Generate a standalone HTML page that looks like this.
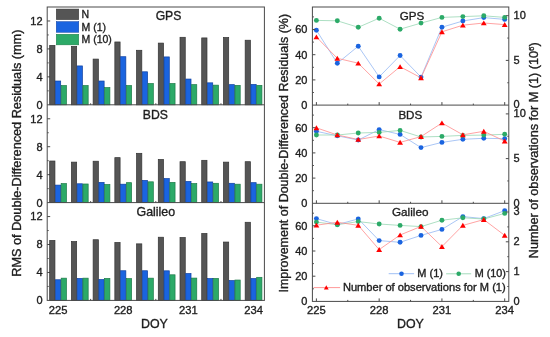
<!DOCTYPE html>
<html><head><meta charset="utf-8"><style>
html,body{margin:0;padding:0;background:#fff;overflow:hidden}
svg{display:block;will-change:transform}
text{font-family:"Liberation Sans", sans-serif;fill:#1e1e1e;stroke:#1e1e1e;stroke-width:0.35px}
</style></head><body>
<svg width="550" height="337" viewBox="0 0 550 337">
<rect width="550" height="337" fill="#fff"/>
<line x1="47.2" y1="90.83" x2="48.7" y2="90.83" stroke="#4a4a4a" stroke-width="1"/>
<line x1="47.2" y1="76.86" x2="50.2" y2="76.86" stroke="#4a4a4a" stroke-width="1"/>
<line x1="47.2" y1="62.89" x2="48.7" y2="62.89" stroke="#4a4a4a" stroke-width="1"/>
<line x1="47.2" y1="48.91" x2="50.2" y2="48.91" stroke="#4a4a4a" stroke-width="1"/>
<line x1="47.2" y1="34.94" x2="48.7" y2="34.94" stroke="#4a4a4a" stroke-width="1"/>
<line x1="47.2" y1="20.97" x2="50.2" y2="20.97" stroke="#4a4a4a" stroke-width="1"/>
<text x="42.6" y="108.70" font-size="11" text-anchor="end">0</text>
<text x="42.6" y="80.76" font-size="11" text-anchor="end">4</text>
<text x="42.6" y="52.81" font-size="11" text-anchor="end">8</text>
<text x="42.6" y="24.87" font-size="11" text-anchor="end">12</text>
<line x1="58.06" y1="104.8" x2="58.06" y2="101.8" stroke="#4a4a4a" stroke-width="1"/>
<line x1="90.64" y1="104.8" x2="90.64" y2="103.3" stroke="#4a4a4a" stroke-width="1"/>
<line x1="123.22" y1="104.8" x2="123.22" y2="101.8" stroke="#4a4a4a" stroke-width="1"/>
<line x1="155.80" y1="104.8" x2="155.80" y2="103.3" stroke="#4a4a4a" stroke-width="1"/>
<line x1="188.38" y1="104.8" x2="188.38" y2="101.8" stroke="#4a4a4a" stroke-width="1"/>
<line x1="220.96" y1="104.8" x2="220.96" y2="103.3" stroke="#4a4a4a" stroke-width="1"/>
<line x1="253.54" y1="104.8" x2="253.54" y2="101.8" stroke="#4a4a4a" stroke-width="1"/>
<line x1="47.2" y1="188.63" x2="48.7" y2="188.63" stroke="#4a4a4a" stroke-width="1"/>
<line x1="47.2" y1="174.66" x2="50.2" y2="174.66" stroke="#4a4a4a" stroke-width="1"/>
<line x1="47.2" y1="160.69" x2="48.7" y2="160.69" stroke="#4a4a4a" stroke-width="1"/>
<line x1="47.2" y1="146.71" x2="50.2" y2="146.71" stroke="#4a4a4a" stroke-width="1"/>
<line x1="47.2" y1="132.74" x2="48.7" y2="132.74" stroke="#4a4a4a" stroke-width="1"/>
<line x1="47.2" y1="118.77" x2="50.2" y2="118.77" stroke="#4a4a4a" stroke-width="1"/>
<text x="42.6" y="206.50" font-size="11" text-anchor="end">0</text>
<text x="42.6" y="178.56" font-size="11" text-anchor="end">4</text>
<text x="42.6" y="150.61" font-size="11" text-anchor="end">8</text>
<text x="42.6" y="122.67" font-size="11" text-anchor="end">12</text>
<line x1="58.06" y1="202.6" x2="58.06" y2="199.6" stroke="#4a4a4a" stroke-width="1"/>
<line x1="90.64" y1="202.6" x2="90.64" y2="201.1" stroke="#4a4a4a" stroke-width="1"/>
<line x1="123.22" y1="202.6" x2="123.22" y2="199.6" stroke="#4a4a4a" stroke-width="1"/>
<line x1="155.80" y1="202.6" x2="155.80" y2="201.1" stroke="#4a4a4a" stroke-width="1"/>
<line x1="188.38" y1="202.6" x2="188.38" y2="199.6" stroke="#4a4a4a" stroke-width="1"/>
<line x1="220.96" y1="202.6" x2="220.96" y2="201.1" stroke="#4a4a4a" stroke-width="1"/>
<line x1="253.54" y1="202.6" x2="253.54" y2="199.6" stroke="#4a4a4a" stroke-width="1"/>
<line x1="47.2" y1="286.43" x2="48.7" y2="286.43" stroke="#4a4a4a" stroke-width="1"/>
<line x1="47.2" y1="272.46" x2="50.2" y2="272.46" stroke="#4a4a4a" stroke-width="1"/>
<line x1="47.2" y1="258.49" x2="48.7" y2="258.49" stroke="#4a4a4a" stroke-width="1"/>
<line x1="47.2" y1="244.51" x2="50.2" y2="244.51" stroke="#4a4a4a" stroke-width="1"/>
<line x1="47.2" y1="230.54" x2="48.7" y2="230.54" stroke="#4a4a4a" stroke-width="1"/>
<line x1="47.2" y1="216.57" x2="50.2" y2="216.57" stroke="#4a4a4a" stroke-width="1"/>
<text x="42.6" y="304.30" font-size="11" text-anchor="end">0</text>
<text x="42.6" y="276.36" font-size="11" text-anchor="end">4</text>
<text x="42.6" y="248.41" font-size="11" text-anchor="end">8</text>
<text x="42.6" y="220.47" font-size="11" text-anchor="end">12</text>
<line x1="58.06" y1="300.4" x2="58.06" y2="297.4" stroke="#4a4a4a" stroke-width="1"/>
<line x1="90.64" y1="300.4" x2="90.64" y2="298.9" stroke="#4a4a4a" stroke-width="1"/>
<line x1="123.22" y1="300.4" x2="123.22" y2="297.4" stroke="#4a4a4a" stroke-width="1"/>
<line x1="155.80" y1="300.4" x2="155.80" y2="298.9" stroke="#4a4a4a" stroke-width="1"/>
<line x1="188.38" y1="300.4" x2="188.38" y2="297.4" stroke="#4a4a4a" stroke-width="1"/>
<line x1="220.96" y1="300.4" x2="220.96" y2="298.9" stroke="#4a4a4a" stroke-width="1"/>
<line x1="253.54" y1="300.4" x2="253.54" y2="297.4" stroke="#4a4a4a" stroke-width="1"/>
<rect x="49.68" y="45.39" width="5.26" height="59.41" fill="#555555" stroke="#333333" stroke-width="0.7"/>
<rect x="55.43" y="81.02" width="5.26" height="23.78" fill="#1a64e0" stroke="#0d3fa0" stroke-width="0.7"/>
<rect x="61.19" y="85.56" width="5.26" height="19.24" fill="#2caa68" stroke="#1d7a48" stroke-width="0.7"/>
<rect x="71.40" y="46.30" width="5.26" height="58.50" fill="#555555" stroke="#333333" stroke-width="0.7"/>
<rect x="77.15" y="65.93" width="5.26" height="38.87" fill="#1a64e0" stroke="#0d3fa0" stroke-width="0.7"/>
<rect x="82.91" y="85.56" width="5.26" height="19.24" fill="#2caa68" stroke="#1d7a48" stroke-width="0.7"/>
<rect x="93.12" y="59.08" width="5.26" height="45.72" fill="#555555" stroke="#333333" stroke-width="0.7"/>
<rect x="98.87" y="81.02" width="5.26" height="23.78" fill="#1a64e0" stroke="#0d3fa0" stroke-width="0.7"/>
<rect x="104.63" y="87.59" width="5.26" height="17.21" fill="#2caa68" stroke="#1d7a48" stroke-width="0.7"/>
<rect x="114.84" y="41.97" width="5.26" height="62.83" fill="#555555" stroke="#333333" stroke-width="0.7"/>
<rect x="120.59" y="56.71" width="5.26" height="48.09" fill="#1a64e0" stroke="#0d3fa0" stroke-width="0.7"/>
<rect x="126.35" y="85.56" width="5.26" height="19.24" fill="#2caa68" stroke="#1d7a48" stroke-width="0.7"/>
<rect x="136.56" y="50.28" width="5.26" height="54.52" fill="#555555" stroke="#333333" stroke-width="0.7"/>
<rect x="142.31" y="71.80" width="5.26" height="33.00" fill="#1a64e0" stroke="#0d3fa0" stroke-width="0.7"/>
<rect x="148.07" y="83.53" width="5.26" height="21.27" fill="#2caa68" stroke="#1d7a48" stroke-width="0.7"/>
<rect x="158.28" y="43.09" width="5.26" height="61.71" fill="#555555" stroke="#333333" stroke-width="0.7"/>
<rect x="164.03" y="56.92" width="5.26" height="47.88" fill="#1a64e0" stroke="#0d3fa0" stroke-width="0.7"/>
<rect x="169.79" y="83.53" width="5.26" height="21.27" fill="#2caa68" stroke="#1d7a48" stroke-width="0.7"/>
<rect x="180.00" y="37.29" width="5.26" height="67.51" fill="#555555" stroke="#333333" stroke-width="0.7"/>
<rect x="185.75" y="79.06" width="5.26" height="25.74" fill="#1a64e0" stroke="#0d3fa0" stroke-width="0.7"/>
<rect x="191.51" y="84.65" width="5.26" height="20.15" fill="#2caa68" stroke="#1d7a48" stroke-width="0.7"/>
<rect x="201.72" y="37.92" width="5.26" height="66.88" fill="#555555" stroke="#333333" stroke-width="0.7"/>
<rect x="207.47" y="82.84" width="5.26" height="21.96" fill="#1a64e0" stroke="#0d3fa0" stroke-width="0.7"/>
<rect x="213.23" y="85.14" width="5.26" height="19.66" fill="#2caa68" stroke="#1d7a48" stroke-width="0.7"/>
<rect x="223.44" y="37.50" width="5.26" height="67.30" fill="#555555" stroke="#333333" stroke-width="0.7"/>
<rect x="229.19" y="84.65" width="5.26" height="20.15" fill="#1a64e0" stroke="#0d3fa0" stroke-width="0.7"/>
<rect x="234.95" y="85.35" width="5.26" height="19.45" fill="#2caa68" stroke="#1d7a48" stroke-width="0.7"/>
<rect x="245.16" y="40.22" width="5.26" height="64.58" fill="#555555" stroke="#333333" stroke-width="0.7"/>
<rect x="250.91" y="84.44" width="5.26" height="20.36" fill="#1a64e0" stroke="#0d3fa0" stroke-width="0.7"/>
<rect x="256.67" y="85.35" width="5.26" height="19.45" fill="#2caa68" stroke="#1d7a48" stroke-width="0.7"/>
<rect x="49.68" y="161.01" width="5.26" height="41.59" fill="#555555" stroke="#333333" stroke-width="0.7"/>
<rect x="55.43" y="185.11" width="5.26" height="17.49" fill="#1a64e0" stroke="#0d3fa0" stroke-width="0.7"/>
<rect x="61.19" y="183.57" width="5.26" height="19.03" fill="#2caa68" stroke="#1d7a48" stroke-width="0.7"/>
<rect x="71.40" y="162.12" width="5.26" height="40.48" fill="#555555" stroke="#333333" stroke-width="0.7"/>
<rect x="77.15" y="183.78" width="5.26" height="18.82" fill="#1a64e0" stroke="#0d3fa0" stroke-width="0.7"/>
<rect x="82.91" y="183.99" width="5.26" height="18.61" fill="#2caa68" stroke="#1d7a48" stroke-width="0.7"/>
<rect x="93.12" y="161.22" width="5.26" height="41.38" fill="#555555" stroke="#333333" stroke-width="0.7"/>
<rect x="98.87" y="182.38" width="5.26" height="20.22" fill="#1a64e0" stroke="#0d3fa0" stroke-width="0.7"/>
<rect x="104.63" y="184.48" width="5.26" height="18.12" fill="#2caa68" stroke="#1d7a48" stroke-width="0.7"/>
<rect x="114.84" y="157.65" width="5.26" height="44.95" fill="#555555" stroke="#333333" stroke-width="0.7"/>
<rect x="120.59" y="184.20" width="5.26" height="18.40" fill="#1a64e0" stroke="#0d3fa0" stroke-width="0.7"/>
<rect x="126.35" y="182.66" width="5.26" height="19.94" fill="#2caa68" stroke="#1d7a48" stroke-width="0.7"/>
<rect x="136.56" y="153.32" width="5.26" height="49.28" fill="#555555" stroke="#333333" stroke-width="0.7"/>
<rect x="142.31" y="180.43" width="5.26" height="22.17" fill="#1a64e0" stroke="#0d3fa0" stroke-width="0.7"/>
<rect x="148.07" y="181.82" width="5.26" height="20.78" fill="#2caa68" stroke="#1d7a48" stroke-width="0.7"/>
<rect x="158.28" y="159.47" width="5.26" height="43.13" fill="#555555" stroke="#333333" stroke-width="0.7"/>
<rect x="164.03" y="178.61" width="5.26" height="23.99" fill="#1a64e0" stroke="#0d3fa0" stroke-width="0.7"/>
<rect x="169.79" y="182.38" width="5.26" height="20.22" fill="#2caa68" stroke="#1d7a48" stroke-width="0.7"/>
<rect x="180.00" y="161.70" width="5.26" height="40.90" fill="#555555" stroke="#333333" stroke-width="0.7"/>
<rect x="185.75" y="181.47" width="5.26" height="21.13" fill="#1a64e0" stroke="#0d3fa0" stroke-width="0.7"/>
<rect x="191.51" y="183.57" width="5.26" height="19.03" fill="#2caa68" stroke="#1d7a48" stroke-width="0.7"/>
<rect x="201.72" y="160.31" width="5.26" height="42.29" fill="#555555" stroke="#333333" stroke-width="0.7"/>
<rect x="207.47" y="181.96" width="5.26" height="20.64" fill="#1a64e0" stroke="#0d3fa0" stroke-width="0.7"/>
<rect x="213.23" y="183.29" width="5.26" height="19.31" fill="#2caa68" stroke="#1d7a48" stroke-width="0.7"/>
<rect x="223.44" y="162.12" width="5.26" height="40.48" fill="#555555" stroke="#333333" stroke-width="0.7"/>
<rect x="229.19" y="183.29" width="5.26" height="19.31" fill="#1a64e0" stroke="#0d3fa0" stroke-width="0.7"/>
<rect x="234.95" y="184.20" width="5.26" height="18.40" fill="#2caa68" stroke="#1d7a48" stroke-width="0.7"/>
<rect x="245.16" y="161.70" width="5.26" height="40.90" fill="#555555" stroke="#333333" stroke-width="0.7"/>
<rect x="250.91" y="182.66" width="5.26" height="19.94" fill="#1a64e0" stroke="#0d3fa0" stroke-width="0.7"/>
<rect x="256.67" y="184.20" width="5.26" height="18.40" fill="#2caa68" stroke="#1d7a48" stroke-width="0.7"/>
<rect x="49.68" y="240.43" width="5.26" height="59.97" fill="#555555" stroke="#333333" stroke-width="0.7"/>
<rect x="55.43" y="279.76" width="5.26" height="20.64" fill="#1a64e0" stroke="#0d3fa0" stroke-width="0.7"/>
<rect x="61.19" y="278.16" width="5.26" height="22.24" fill="#2caa68" stroke="#1d7a48" stroke-width="0.7"/>
<rect x="71.40" y="241.55" width="5.26" height="58.85" fill="#555555" stroke="#333333" stroke-width="0.7"/>
<rect x="77.15" y="278.44" width="5.26" height="21.96" fill="#1a64e0" stroke="#0d3fa0" stroke-width="0.7"/>
<rect x="82.91" y="278.16" width="5.26" height="22.24" fill="#2caa68" stroke="#1d7a48" stroke-width="0.7"/>
<rect x="93.12" y="239.73" width="5.26" height="60.67" fill="#555555" stroke="#333333" stroke-width="0.7"/>
<rect x="98.87" y="279.55" width="5.26" height="20.85" fill="#1a64e0" stroke="#0d3fa0" stroke-width="0.7"/>
<rect x="104.63" y="278.44" width="5.26" height="21.96" fill="#2caa68" stroke="#1d7a48" stroke-width="0.7"/>
<rect x="114.84" y="242.46" width="5.26" height="57.94" fill="#555555" stroke="#333333" stroke-width="0.7"/>
<rect x="120.59" y="270.75" width="5.26" height="29.65" fill="#1a64e0" stroke="#0d3fa0" stroke-width="0.7"/>
<rect x="126.35" y="278.64" width="5.26" height="21.75" fill="#2caa68" stroke="#1d7a48" stroke-width="0.7"/>
<rect x="136.56" y="243.86" width="5.26" height="56.54" fill="#555555" stroke="#333333" stroke-width="0.7"/>
<rect x="142.31" y="270.75" width="5.26" height="29.65" fill="#1a64e0" stroke="#0d3fa0" stroke-width="0.7"/>
<rect x="148.07" y="278.16" width="5.26" height="22.24" fill="#2caa68" stroke="#1d7a48" stroke-width="0.7"/>
<rect x="158.28" y="237.22" width="5.26" height="63.18" fill="#555555" stroke="#333333" stroke-width="0.7"/>
<rect x="164.03" y="270.82" width="5.26" height="29.58" fill="#1a64e0" stroke="#0d3fa0" stroke-width="0.7"/>
<rect x="169.79" y="274.80" width="5.26" height="25.60" fill="#2caa68" stroke="#1d7a48" stroke-width="0.7"/>
<rect x="180.00" y="237.50" width="5.26" height="62.90" fill="#555555" stroke="#333333" stroke-width="0.7"/>
<rect x="185.75" y="273.55" width="5.26" height="26.85" fill="#1a64e0" stroke="#0d3fa0" stroke-width="0.7"/>
<rect x="191.51" y="278.09" width="5.26" height="22.31" fill="#2caa68" stroke="#1d7a48" stroke-width="0.7"/>
<rect x="201.72" y="233.45" width="5.26" height="66.95" fill="#555555" stroke="#333333" stroke-width="0.7"/>
<rect x="207.47" y="278.58" width="5.26" height="21.82" fill="#1a64e0" stroke="#0d3fa0" stroke-width="0.7"/>
<rect x="213.23" y="278.44" width="5.26" height="21.96" fill="#2caa68" stroke="#1d7a48" stroke-width="0.7"/>
<rect x="223.44" y="242.04" width="5.26" height="58.36" fill="#555555" stroke="#333333" stroke-width="0.7"/>
<rect x="229.19" y="280.60" width="5.26" height="19.80" fill="#1a64e0" stroke="#0d3fa0" stroke-width="0.7"/>
<rect x="234.95" y="280.04" width="5.26" height="20.36" fill="#2caa68" stroke="#1d7a48" stroke-width="0.7"/>
<rect x="245.16" y="222.27" width="5.26" height="78.13" fill="#555555" stroke="#333333" stroke-width="0.7"/>
<rect x="250.91" y="278.58" width="5.26" height="21.82" fill="#1a64e0" stroke="#0d3fa0" stroke-width="0.7"/>
<rect x="256.67" y="277.32" width="5.26" height="23.08" fill="#2caa68" stroke="#1d7a48" stroke-width="0.7"/>
<rect x="56" y="8.30" width="23" height="12.2" fill="#fff"/>
<rect x="56.25" y="9.05" width="22.5" height="10.6" fill="#555555" stroke="#333333" stroke-width="0.5"/>
<text x="81.5" y="18.10" font-size="10.5">N</text>
<rect x="56" y="20.90" width="23" height="12.2" fill="#fff"/>
<rect x="56.25" y="21.65" width="22.5" height="10.6" fill="#1a64e0" stroke="#0d3fa0" stroke-width="0.5"/>
<text x="81.5" y="30.70" font-size="10.5">M (1)</text>
<rect x="56" y="33.50" width="23" height="12.2" fill="#fff"/>
<rect x="56.25" y="34.25" width="22.5" height="10.6" fill="#2caa68" stroke="#1d7a48" stroke-width="0.5"/>
<text x="81.5" y="43.30" font-size="10.5">M (10)</text>
<rect x="47.2" y="7.0" width="217.20" height="293.40" fill="none" stroke="#4a4a4a" stroke-width="1"/>
<line x1="47.2" y1="104.8" x2="264.4" y2="104.8" stroke="#4a4a4a" stroke-width="1"/>
<line x1="47.2" y1="202.6" x2="264.4" y2="202.6" stroke="#4a4a4a" stroke-width="1"/>
<text x="168.5" y="19.8" font-size="12.2" text-anchor="middle">GPS</text>
<text x="155.3" y="119.1" font-size="12.2" text-anchor="middle">BDS</text>
<text x="155.8" y="216.2" font-size="12.4" text-anchor="middle">Galileo</text>
<text x="58.06" y="314.2" font-size="11.2" text-anchor="middle">225</text>
<text x="123.22" y="314.2" font-size="11.2" text-anchor="middle">228</text>
<text x="188.38" y="314.2" font-size="11.2" text-anchor="middle">231</text>
<text x="253.54" y="314.2" font-size="11.2" text-anchor="middle">234</text>
<text x="154.4" y="327.6" font-size="12.4" text-anchor="middle">DOY</text>
<text transform="translate(20.8,153.15) rotate(-90)" x="0" y="0" font-size="12" text-anchor="middle" textLength="247" lengthAdjust="spacingAndGlyphs">RMS of Double-Differenced Residuals (mm)</text>
<polyline points="316.40,30.20 337.32,63.30 358.24,46.20 379.17,76.90 400.09,55.50 421.01,77.10 441.93,27.20 462.86,21.00 483.78,17.60 504.70,19.40" fill="none" stroke="#94b8f3" stroke-width="0.8"/>
<circle cx="316.40" cy="30.20" r="2.45" fill="#1a64e0"/>
<circle cx="337.32" cy="63.30" r="2.45" fill="#1a64e0"/>
<circle cx="358.24" cy="46.20" r="2.45" fill="#1a64e0"/>
<circle cx="379.17" cy="76.90" r="2.45" fill="#1a64e0"/>
<circle cx="400.09" cy="55.50" r="2.45" fill="#1a64e0"/>
<circle cx="421.01" cy="77.10" r="2.45" fill="#1a64e0"/>
<circle cx="441.93" cy="27.20" r="2.45" fill="#1a64e0"/>
<circle cx="462.86" cy="21.00" r="2.45" fill="#1a64e0"/>
<circle cx="483.78" cy="17.60" r="2.45" fill="#1a64e0"/>
<circle cx="504.70" cy="19.40" r="2.45" fill="#1a64e0"/>
<polyline points="316.40,20.40 337.32,20.80 358.24,27.30 379.17,18.20 400.09,29.20 421.01,23.10 441.93,17.40 462.86,16.60 483.78,15.80 504.70,17.40" fill="none" stroke="#98d7b4" stroke-width="0.8"/>
<circle cx="316.40" cy="20.40" r="2.45" fill="#2caa68"/>
<circle cx="337.32" cy="20.80" r="2.45" fill="#2caa68"/>
<circle cx="358.24" cy="27.30" r="2.45" fill="#2caa68"/>
<circle cx="379.17" cy="18.20" r="2.45" fill="#2caa68"/>
<circle cx="400.09" cy="29.20" r="2.45" fill="#2caa68"/>
<circle cx="421.01" cy="23.10" r="2.45" fill="#2caa68"/>
<circle cx="441.93" cy="17.40" r="2.45" fill="#2caa68"/>
<circle cx="462.86" cy="16.60" r="2.45" fill="#2caa68"/>
<circle cx="483.78" cy="15.80" r="2.45" fill="#2caa68"/>
<circle cx="504.70" cy="17.40" r="2.45" fill="#2caa68"/>
<polyline points="316.40,37.00 337.32,58.30 358.24,63.20 379.17,84.00 400.09,66.70 421.01,77.80 441.93,31.80 462.86,25.20 483.78,23.00 504.70,24.60" fill="none" stroke="#ff8c8c" stroke-width="0.8"/>
<polygon points="313.50,39.35 319.30,39.35 316.40,34.45" fill="#ff0000"/>
<polygon points="334.42,60.65 340.22,60.65 337.32,55.75" fill="#ff0000"/>
<polygon points="355.34,65.55 361.14,65.55 358.24,60.65" fill="#ff0000"/>
<polygon points="376.27,86.35 382.07,86.35 379.17,81.45" fill="#ff0000"/>
<polygon points="397.19,69.05 402.99,69.05 400.09,64.15" fill="#ff0000"/>
<polygon points="418.11,80.15 423.91,80.15 421.01,75.25" fill="#ff0000"/>
<polygon points="439.03,34.15 444.83,34.15 441.93,29.25" fill="#ff0000"/>
<polygon points="459.96,27.55 465.76,27.55 462.86,22.65" fill="#ff0000"/>
<polygon points="480.88,25.35 486.68,25.35 483.78,20.45" fill="#ff0000"/>
<polygon points="501.80,26.95 507.60,26.95 504.70,22.05" fill="#ff0000"/>
<polyline points="316.40,131.30 337.32,135.80 358.24,140.00 379.17,129.60 400.09,134.40 421.01,147.60 441.93,142.40 462.86,139.30 483.78,138.30 504.70,138.70" fill="none" stroke="#94b8f3" stroke-width="0.8"/>
<circle cx="316.40" cy="131.30" r="2.45" fill="#1a64e0"/>
<circle cx="337.32" cy="135.80" r="2.45" fill="#1a64e0"/>
<circle cx="358.24" cy="140.00" r="2.45" fill="#1a64e0"/>
<circle cx="379.17" cy="129.60" r="2.45" fill="#1a64e0"/>
<circle cx="400.09" cy="134.40" r="2.45" fill="#1a64e0"/>
<circle cx="421.01" cy="147.60" r="2.45" fill="#1a64e0"/>
<circle cx="441.93" cy="142.40" r="2.45" fill="#1a64e0"/>
<circle cx="462.86" cy="139.30" r="2.45" fill="#1a64e0"/>
<circle cx="483.78" cy="138.30" r="2.45" fill="#1a64e0"/>
<circle cx="504.70" cy="138.70" r="2.45" fill="#1a64e0"/>
<polyline points="316.40,135.00 337.32,135.00 358.24,133.00 379.17,132.40 400.09,130.40 421.01,137.00 441.93,136.40 462.86,135.40 483.78,135.10 504.70,134.30" fill="none" stroke="#98d7b4" stroke-width="0.8"/>
<circle cx="316.40" cy="135.00" r="2.45" fill="#2caa68"/>
<circle cx="337.32" cy="135.00" r="2.45" fill="#2caa68"/>
<circle cx="358.24" cy="133.00" r="2.45" fill="#2caa68"/>
<circle cx="379.17" cy="132.40" r="2.45" fill="#2caa68"/>
<circle cx="400.09" cy="130.40" r="2.45" fill="#2caa68"/>
<circle cx="421.01" cy="137.00" r="2.45" fill="#2caa68"/>
<circle cx="441.93" cy="136.40" r="2.45" fill="#2caa68"/>
<circle cx="462.86" cy="135.40" r="2.45" fill="#2caa68"/>
<circle cx="483.78" cy="135.10" r="2.45" fill="#2caa68"/>
<circle cx="504.70" cy="134.30" r="2.45" fill="#2caa68"/>
<polyline points="316.40,127.80 337.32,135.00 358.24,139.50 379.17,136.00 400.09,142.40 421.01,136.60 441.93,123.00 462.86,134.80 483.78,131.30 504.70,141.10" fill="none" stroke="#ff8c8c" stroke-width="0.8"/>
<polygon points="313.50,130.15 319.30,130.15 316.40,125.25" fill="#ff0000"/>
<polygon points="334.42,137.35 340.22,137.35 337.32,132.45" fill="#ff0000"/>
<polygon points="355.34,141.85 361.14,141.85 358.24,136.95" fill="#ff0000"/>
<polygon points="376.27,138.35 382.07,138.35 379.17,133.45" fill="#ff0000"/>
<polygon points="397.19,144.75 402.99,144.75 400.09,139.85" fill="#ff0000"/>
<polygon points="418.11,138.95 423.91,138.95 421.01,134.05" fill="#ff0000"/>
<polygon points="439.03,125.35 444.83,125.35 441.93,120.45" fill="#ff0000"/>
<polygon points="459.96,137.15 465.76,137.15 462.86,132.25" fill="#ff0000"/>
<polygon points="480.88,133.65 486.68,133.65 483.78,128.75" fill="#ff0000"/>
<polygon points="501.80,143.45 507.60,143.45 504.70,138.55" fill="#ff0000"/>
<polyline points="316.40,218.60 337.32,224.60 358.24,218.90 379.17,240.60 400.09,242.30 421.01,235.40 441.93,229.40 462.86,216.60 483.78,218.60 504.70,210.60" fill="none" stroke="#94b8f3" stroke-width="0.8"/>
<circle cx="316.40" cy="218.60" r="2.45" fill="#1a64e0"/>
<circle cx="337.32" cy="224.60" r="2.45" fill="#1a64e0"/>
<circle cx="358.24" cy="218.90" r="2.45" fill="#1a64e0"/>
<circle cx="379.17" cy="240.60" r="2.45" fill="#1a64e0"/>
<circle cx="400.09" cy="242.30" r="2.45" fill="#1a64e0"/>
<circle cx="421.01" cy="235.40" r="2.45" fill="#1a64e0"/>
<circle cx="441.93" cy="229.40" r="2.45" fill="#1a64e0"/>
<circle cx="462.86" cy="216.60" r="2.45" fill="#1a64e0"/>
<circle cx="483.78" cy="218.60" r="2.45" fill="#1a64e0"/>
<circle cx="504.70" cy="210.60" r="2.45" fill="#1a64e0"/>
<polyline points="316.40,222.10 337.32,224.70 358.24,221.60 379.17,224.00 400.09,225.40 421.01,226.60 441.93,220.20 462.86,217.80 483.78,219.00 504.70,213.40" fill="none" stroke="#98d7b4" stroke-width="0.8"/>
<circle cx="316.40" cy="222.10" r="2.45" fill="#2caa68"/>
<circle cx="337.32" cy="224.70" r="2.45" fill="#2caa68"/>
<circle cx="358.24" cy="221.60" r="2.45" fill="#2caa68"/>
<circle cx="379.17" cy="224.00" r="2.45" fill="#2caa68"/>
<circle cx="400.09" cy="225.40" r="2.45" fill="#2caa68"/>
<circle cx="421.01" cy="226.60" r="2.45" fill="#2caa68"/>
<circle cx="441.93" cy="220.20" r="2.45" fill="#2caa68"/>
<circle cx="462.86" cy="217.80" r="2.45" fill="#2caa68"/>
<circle cx="483.78" cy="219.00" r="2.45" fill="#2caa68"/>
<circle cx="504.70" cy="213.40" r="2.45" fill="#2caa68"/>
<polyline points="316.40,225.20 337.32,222.30 358.24,225.30 379.17,249.60 400.09,235.00 421.01,226.40 441.93,246.60 462.86,225.40 483.78,219.60 504.70,235.40" fill="none" stroke="#ff8c8c" stroke-width="0.8"/>
<polygon points="313.50,227.55 319.30,227.55 316.40,222.65" fill="#ff0000"/>
<polygon points="334.42,224.65 340.22,224.65 337.32,219.75" fill="#ff0000"/>
<polygon points="355.34,227.65 361.14,227.65 358.24,222.75" fill="#ff0000"/>
<polygon points="376.27,251.95 382.07,251.95 379.17,247.05" fill="#ff0000"/>
<polygon points="397.19,237.35 402.99,237.35 400.09,232.45" fill="#ff0000"/>
<polygon points="418.11,228.75 423.91,228.75 421.01,223.85" fill="#ff0000"/>
<polygon points="439.03,248.95 444.83,248.95 441.93,244.05" fill="#ff0000"/>
<polygon points="459.96,227.75 465.76,227.75 462.86,222.85" fill="#ff0000"/>
<polygon points="480.88,221.95 486.68,221.95 483.78,217.05" fill="#ff0000"/>
<polygon points="501.80,237.75 507.60,237.75 504.70,232.85" fill="#ff0000"/>
<line x1="312.4" y1="92.50" x2="313.9" y2="92.50" stroke="#4a4a4a" stroke-width="1"/>
<line x1="312.4" y1="79.90" x2="315.4" y2="79.90" stroke="#4a4a4a" stroke-width="1"/>
<line x1="312.4" y1="67.30" x2="313.9" y2="67.30" stroke="#4a4a4a" stroke-width="1"/>
<line x1="312.4" y1="54.70" x2="315.4" y2="54.70" stroke="#4a4a4a" stroke-width="1"/>
<line x1="312.4" y1="42.10" x2="313.9" y2="42.10" stroke="#4a4a4a" stroke-width="1"/>
<line x1="312.4" y1="29.50" x2="315.4" y2="29.50" stroke="#4a4a4a" stroke-width="1"/>
<line x1="312.4" y1="16.90" x2="313.9" y2="16.90" stroke="#4a4a4a" stroke-width="1"/>
<text x="307.4" y="109.00" font-size="11" text-anchor="end">0</text>
<text x="307.4" y="83.80" font-size="11" text-anchor="end">20</text>
<text x="307.4" y="58.60" font-size="11" text-anchor="end">40</text>
<text x="307.4" y="33.40" font-size="11" text-anchor="end">60</text>
<line x1="508.8" y1="82.75" x2="507.3" y2="82.75" stroke="#4a4a4a" stroke-width="1"/>
<line x1="508.8" y1="60.40" x2="505.8" y2="60.40" stroke="#4a4a4a" stroke-width="1"/>
<line x1="508.8" y1="38.05" x2="507.3" y2="38.05" stroke="#4a4a4a" stroke-width="1"/>
<line x1="508.8" y1="15.70" x2="505.8" y2="15.70" stroke="#4a4a4a" stroke-width="1"/>
<text x="513.6" y="108.30" font-size="11">0</text>
<text x="513.6" y="63.60" font-size="11">5</text>
<text x="513.6" y="18.90" font-size="11">10</text>
<line x1="316.40" y1="105.1" x2="316.40" y2="102.1" stroke="#4a4a4a" stroke-width="1"/>
<line x1="347.78" y1="105.1" x2="347.78" y2="103.6" stroke="#4a4a4a" stroke-width="1"/>
<line x1="379.17" y1="105.1" x2="379.17" y2="102.1" stroke="#4a4a4a" stroke-width="1"/>
<line x1="410.55" y1="105.1" x2="410.55" y2="103.6" stroke="#4a4a4a" stroke-width="1"/>
<line x1="441.93" y1="105.1" x2="441.93" y2="102.1" stroke="#4a4a4a" stroke-width="1"/>
<line x1="473.32" y1="105.1" x2="473.32" y2="103.6" stroke="#4a4a4a" stroke-width="1"/>
<line x1="504.70" y1="105.1" x2="504.70" y2="102.1" stroke="#4a4a4a" stroke-width="1"/>
<line x1="312.4" y1="190.70" x2="313.9" y2="190.70" stroke="#4a4a4a" stroke-width="1"/>
<line x1="312.4" y1="178.10" x2="315.4" y2="178.10" stroke="#4a4a4a" stroke-width="1"/>
<line x1="312.4" y1="165.50" x2="313.9" y2="165.50" stroke="#4a4a4a" stroke-width="1"/>
<line x1="312.4" y1="152.90" x2="315.4" y2="152.90" stroke="#4a4a4a" stroke-width="1"/>
<line x1="312.4" y1="140.30" x2="313.9" y2="140.30" stroke="#4a4a4a" stroke-width="1"/>
<line x1="312.4" y1="127.70" x2="315.4" y2="127.70" stroke="#4a4a4a" stroke-width="1"/>
<line x1="312.4" y1="115.10" x2="313.9" y2="115.10" stroke="#4a4a4a" stroke-width="1"/>
<text x="307.4" y="207.20" font-size="11" text-anchor="end">0</text>
<text x="307.4" y="182.00" font-size="11" text-anchor="end">20</text>
<text x="307.4" y="156.80" font-size="11" text-anchor="end">40</text>
<text x="307.4" y="131.60" font-size="11" text-anchor="end">60</text>
<line x1="508.8" y1="180.95" x2="507.3" y2="180.95" stroke="#4a4a4a" stroke-width="1"/>
<line x1="508.8" y1="158.60" x2="505.8" y2="158.60" stroke="#4a4a4a" stroke-width="1"/>
<line x1="508.8" y1="136.25" x2="507.3" y2="136.25" stroke="#4a4a4a" stroke-width="1"/>
<line x1="508.8" y1="113.90" x2="505.8" y2="113.90" stroke="#4a4a4a" stroke-width="1"/>
<text x="513.6" y="206.50" font-size="11">0</text>
<text x="513.6" y="161.80" font-size="11">5</text>
<text x="513.6" y="117.10" font-size="11">10</text>
<line x1="316.40" y1="203.3" x2="316.40" y2="200.3" stroke="#4a4a4a" stroke-width="1"/>
<line x1="347.78" y1="203.3" x2="347.78" y2="201.8" stroke="#4a4a4a" stroke-width="1"/>
<line x1="379.17" y1="203.3" x2="379.17" y2="200.3" stroke="#4a4a4a" stroke-width="1"/>
<line x1="410.55" y1="203.3" x2="410.55" y2="201.8" stroke="#4a4a4a" stroke-width="1"/>
<line x1="441.93" y1="203.3" x2="441.93" y2="200.3" stroke="#4a4a4a" stroke-width="1"/>
<line x1="473.32" y1="203.3" x2="473.32" y2="201.8" stroke="#4a4a4a" stroke-width="1"/>
<line x1="504.70" y1="203.3" x2="504.70" y2="200.3" stroke="#4a4a4a" stroke-width="1"/>
<line x1="312.4" y1="288.80" x2="313.9" y2="288.80" stroke="#4a4a4a" stroke-width="1"/>
<line x1="312.4" y1="276.20" x2="315.4" y2="276.20" stroke="#4a4a4a" stroke-width="1"/>
<line x1="312.4" y1="263.60" x2="313.9" y2="263.60" stroke="#4a4a4a" stroke-width="1"/>
<line x1="312.4" y1="251.00" x2="315.4" y2="251.00" stroke="#4a4a4a" stroke-width="1"/>
<line x1="312.4" y1="238.40" x2="313.9" y2="238.40" stroke="#4a4a4a" stroke-width="1"/>
<line x1="312.4" y1="225.80" x2="315.4" y2="225.80" stroke="#4a4a4a" stroke-width="1"/>
<line x1="312.4" y1="213.20" x2="313.9" y2="213.20" stroke="#4a4a4a" stroke-width="1"/>
<text x="307.4" y="305.30" font-size="11" text-anchor="end">0</text>
<text x="307.4" y="280.10" font-size="11" text-anchor="end">20</text>
<text x="307.4" y="254.90" font-size="11" text-anchor="end">40</text>
<text x="307.4" y="229.70" font-size="11" text-anchor="end">60</text>
<line x1="508.8" y1="286.50" x2="507.3" y2="286.50" stroke="#4a4a4a" stroke-width="1"/>
<line x1="508.8" y1="271.60" x2="505.8" y2="271.60" stroke="#4a4a4a" stroke-width="1"/>
<line x1="508.8" y1="256.70" x2="507.3" y2="256.70" stroke="#4a4a4a" stroke-width="1"/>
<line x1="508.8" y1="241.80" x2="505.8" y2="241.80" stroke="#4a4a4a" stroke-width="1"/>
<line x1="508.8" y1="226.90" x2="507.3" y2="226.90" stroke="#4a4a4a" stroke-width="1"/>
<line x1="508.8" y1="212.00" x2="505.8" y2="212.00" stroke="#4a4a4a" stroke-width="1"/>
<text x="513.6" y="304.60" font-size="11">0</text>
<text x="513.6" y="274.80" font-size="11">1</text>
<text x="513.6" y="245.00" font-size="11">2</text>
<text x="513.6" y="215.20" font-size="11">3</text>
<line x1="316.40" y1="301.4" x2="316.40" y2="298.4" stroke="#4a4a4a" stroke-width="1"/>
<line x1="347.78" y1="301.4" x2="347.78" y2="299.9" stroke="#4a4a4a" stroke-width="1"/>
<line x1="379.17" y1="301.4" x2="379.17" y2="298.4" stroke="#4a4a4a" stroke-width="1"/>
<line x1="410.55" y1="301.4" x2="410.55" y2="299.9" stroke="#4a4a4a" stroke-width="1"/>
<line x1="441.93" y1="301.4" x2="441.93" y2="298.4" stroke="#4a4a4a" stroke-width="1"/>
<line x1="473.32" y1="301.4" x2="473.32" y2="299.9" stroke="#4a4a4a" stroke-width="1"/>
<line x1="504.70" y1="301.4" x2="504.70" y2="298.4" stroke="#4a4a4a" stroke-width="1"/>
<rect x="312.4" y="7.0" width="196.40" height="294.40" fill="none" stroke="#4a4a4a" stroke-width="1"/>
<line x1="312.4" y1="105.1" x2="508.8" y2="105.1" stroke="#4a4a4a" stroke-width="1"/>
<line x1="312.4" y1="203.3" x2="508.8" y2="203.3" stroke="#4a4a4a" stroke-width="1"/>
<text x="412.1" y="20.0" font-size="11.6" text-anchor="middle">GPS</text>
<text x="410.3" y="119.0" font-size="11.6" text-anchor="middle">BDS</text>
<text x="410.2" y="216.2" font-size="11.7" text-anchor="middle">Galileo</text>
<text x="316.40" y="314.2" font-size="11.2" text-anchor="middle">225</text>
<text x="379.17" y="314.2" font-size="11.2" text-anchor="middle">228</text>
<text x="441.93" y="314.2" font-size="11.2" text-anchor="middle">231</text>
<text x="504.70" y="314.2" font-size="11.2" text-anchor="middle">234</text>
<text x="410.4" y="327.6" font-size="12.4" text-anchor="middle">DOY</text>
<text transform="translate(288,153.2) rotate(-90)" font-size="12" text-anchor="middle" textLength="278.6" lengthAdjust="spacingAndGlyphs">Improvement of Double-Differenced Residuals (%)</text>
<g transform="translate(538,150.25) rotate(-90)"><text font-size="12.65" text-anchor="middle">Number of observations for M (1) (10<tspan font-size="8" dy="-4.5">6</tspan><tspan dy="4.5">)</tspan></text></g>
<line x1="388.7" y1="273.7" x2="414.1" y2="273.7" stroke="#94b8f3" stroke-width="0.9"/>
<circle cx="401.5" cy="273.7" r="2.3" fill="#1a64e0"/>
<text x="417.3" y="277.4" font-size="10.4" textLength="25.6" lengthAdjust="spacingAndGlyphs">M (1)</text>
<line x1="446.1" y1="273.8" x2="471.2" y2="273.8" stroke="#98d7b4" stroke-width="0.9"/>
<circle cx="458.7" cy="273.8" r="2.3" fill="#2caa68"/>
<text x="474.7" y="277.4" font-size="10.4" textLength="31.3" lengthAdjust="spacingAndGlyphs">M (10)</text>
<line x1="313.6" y1="287.6" x2="340.1" y2="287.6" stroke="#ff8c8c" stroke-width="0.9"/>
<polygon points="323.90,289.56 328.70,289.56 326.30,285.26" fill="#ff0000"/>
<text x="342.9" y="291.1" font-size="10.3" textLength="162.8" lengthAdjust="spacingAndGlyphs">Number of observations for M (1)</text>
</svg>
</body></html>
